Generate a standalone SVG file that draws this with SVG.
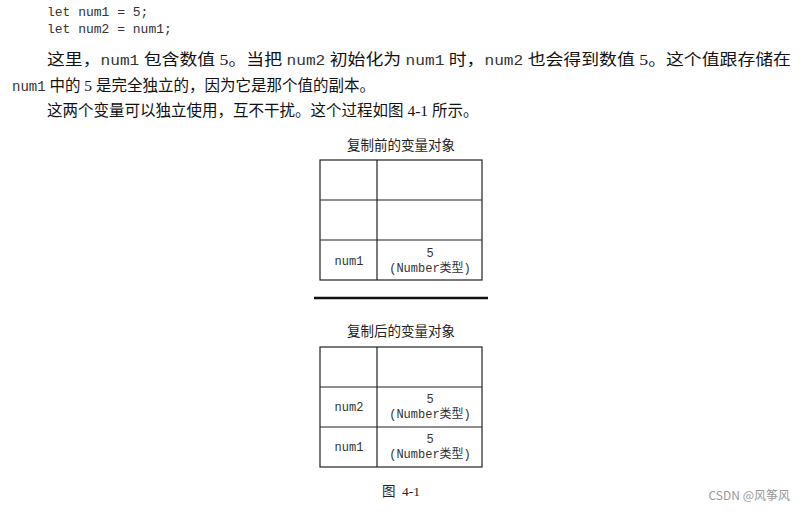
<svg xmlns="http://www.w3.org/2000/svg" width="803" height="512" viewBox="0 0 803 512">
<style>
.code{font-family:"Liberation Mono",monospace;font-size:13px;fill:#333}
.p{font-family:"Liberation Serif","Noto Sans CJK SC",serif;font-size:15.5px;fill:#111}
.m{font-family:"Liberation Mono",monospace;font-size:14px;fill:#333}
.t{font-family:"Liberation Serif","Noto Sans CJK SC",serif;font-size:13.5px;fill:#222;text-anchor:middle}
.c{font-family:"Liberation Mono","Noto Sans CJK SC",monospace;font-size:12px;fill:#333;text-anchor:middle}
.cell{fill:#fff;stroke:#222;stroke-width:1.2}
</style>
<rect width="803" height="512" fill="#fff"/>
<text class="code" x="47" y="16">let num1 = 5;</text>
<text class="code" x="47" y="33">let num2 = num1;</text>
<text class="p" x="47" y="65" textLength="744" lengthAdjust="spacingAndGlyphs">这里，<tspan class="m">num1</tspan> 包含数值 5。当把 <tspan class="m">num2</tspan> 初始化为 <tspan class="m">num1</tspan> 时，<tspan class="m">num2</tspan> 也会得到数值 5。这个值跟存储在</text>
<text class="p" x="12" y="91"><tspan class="m">num1</tspan> 中的 5 是完全独立的，因为它是那个值的副本。</text>
<text class="p" x="47" y="116">这两个变量可以独立使用，互不干扰。这个过程如图 4-1 所示。</text>
<g id="before">
<text class="t" x="401" y="150">复制前的变量对象</text>
<rect class="cell" x="320" y="160" width="162" height="120"/>
<line class="cell" x1="377" y1="160" x2="377" y2="280"/>
<line class="cell" x1="320" y1="200" x2="482" y2="200"/>
<line class="cell" x1="320" y1="240" x2="482" y2="240"/>
<text class="c" x="349" y="265">num1</text>
<text class="c" x="430" y="257">5</text>
<text class="c" x="430" y="272">(Number类型)</text>
</g>
<line x1="314" y1="298" x2="488" y2="298" stroke="#111" stroke-width="2.5"/>
<g id="after">
<text class="t" x="401" y="336">复制后的变量对象</text>
<rect class="cell" x="320" y="347" width="162" height="120"/>
<line class="cell" x1="377" y1="347" x2="377" y2="467"/>
<line class="cell" x1="320" y1="387" x2="482" y2="387"/>
<line class="cell" x1="320" y1="427" x2="482" y2="427"/>
<text class="c" x="349" y="411">num2</text>
<text class="c" x="430" y="403">5</text>
<text class="c" x="430" y="418">(Number类型)</text>
<text class="c" x="349" y="451">num1</text>
<text class="c" x="430" y="443">5</text>
<text class="c" x="430" y="458">(Number类型)</text>
</g>
<text class="t" x="401" y="496" font-size="15" xml:space="preserve">图  4-1</text>
<text x="790" y="500" text-anchor="end" font-family="Noto Sans CJK SC,sans-serif" font-size="12" fill="#999">CSDN @风筝风</text>
</svg>
